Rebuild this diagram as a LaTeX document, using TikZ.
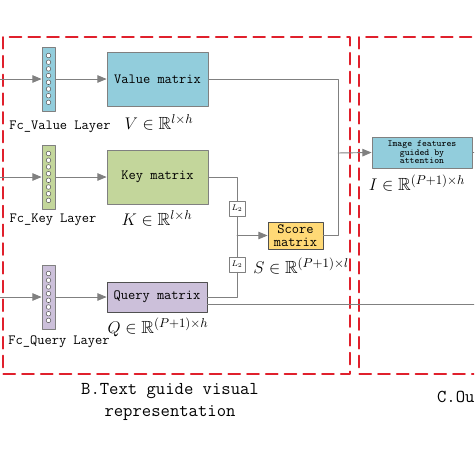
\documentclass[tikz,border=0pt]{standalone}
\usepackage{amsmath}
\usepackage{amssymb}
\usetikzlibrary{arrows}

\definecolor{valblue}{HTML}{92CDDC}
\definecolor{keygreen}{HTML}{C3D69B}
\definecolor{qpurple}{HTML}{CCC0DA}
\definecolor{scoreyel}{HTML}{FFD976}
\definecolor{redline}{HTML}{E0202C}
\definecolor{lgray}{HTML}{808080}
\definecolor{dgray}{HTML}{505050}

\begin{document}
\begin{tikzpicture}[line cap=round,line join=round,>=triangle 45,x=0.03cm,y=-0.03cm,
  matbox/.style={draw=lgray,line width=0.8pt,inner sep=0pt,minimum width=3.03cm,minimum height=1.62cm,font=\fontsize{12}{14}\ttfamily},
  layerbar/.style={draw=lgray,line width=0.8pt,inner sep=0pt,minimum width=0.39cm,minimum height=1.92cm},
  lbl/.style={font=\fontsize{12}{14}\ttfamily},
  mlbl/.style={font=\fontsize{15}{17}\selectfont},
  link/.style={draw=lgray,line width=0.8pt},
  reddash/.style={draw=redline,line width=1.6pt,dash pattern=on 10pt off 6pt},
  normbox/.style={draw=lgray,fill=white,line width=0.6pt,inner sep=0pt,minimum width=0.48cm,minimum height=0.45cm,font=\fontsize{7}{8}\selectfont}]
\useasboundingbox (0,0) rectangle (474,474);
\clip (0,0) rectangle (474,474);

% dashed frames
\draw[reddash] (3,37) rectangle (350,374);
\draw[reddash] (359,37) rectangle (500,374);

% layers
\node[layerbar,fill=valblue] (vlayer) at (48.5,79) {};
\node[layerbar,fill=keygreen] (klayer) at (48.5,177) {};
\node[layerbar,fill=qpurple] (qlayer) at (48.5,297) {};
\foreach \yc in {79,177,297}
  \foreach \k in {0,...,7}
    \draw[dgray,line width=0.4pt,fill=white] (48.5,{\yc-23.5+\k*6.7}) circle (2.3);

% matrices
\node[matbox,fill=valblue] (vmat) at (157.5,79) {Value matrix};
\node[matbox,fill=keygreen] (kmat) at (157.5,177) {Key matrix};
\node[matbox,fill=qpurple,draw=dgray,minimum width=3.0cm,minimum height=0.9cm] (qmat) at (157,297) {Query matrix};
\node[matbox,fill=scoreyel,draw=dgray,minimum width=1.65cm,minimum height=0.81cm,align=center,font=\fontsize{12}{11.5}\ttfamily] (smat) at (295.5,235.5) {Score\\matrix};
\node[normbox] (norma) at (237,208.5) {$L_2$};
\node[normbox] (normb) at (237,264.5) {$L_2$};
\node[matbox,fill=valblue,minimum width=3.0cm,minimum height=0.93cm,align=center,font=\fontsize{7.9}{7.3}\ttfamily] (img) at (422,152.5) {Image features\\guided by\\attention};

% labels
\node[lbl] (vname) at (60,127) {Fc\_Value Layer};
\node[lbl] (kname) at (53,220) {Fc\_Key Layer};
\node[lbl] (qname) at (59,342) {Fc\_Query Layer};
\node[mlbl] (vdim) at (159,122) {$V\in\mathbb{R}^{l\times h}$};
\node[mlbl] (kdim) at (157,218) {$K\in\mathbb{R}^{l\times h}$};
\node[mlbl] (qdim) at (158,327) {$Q\in\mathbb{R}^{(P+1)\times h}$};
\node[mlbl] (sdim) at (301,266) {$S\in\mathbb{R}^{(P+1)\times l}$};
\node[mlbl] (idim) at (417,183) {$I\in\mathbb{R}^{(P+1)\times h}$};
\node[align=center,font=\fontsize{15.5}{18}\ttfamily] (bname) at (170,402) {B.Text guide visual\\representation};
\node[anchor=west,font=\fontsize{15.5}{18}\ttfamily] (cname) at (433,397) {C.Ou};

% connectors
\coordinate (vin) at (0,79);
\coordinate (kin) at (0,177);
\coordinate (qin) at (0,297);
\coordinate (join) at (338,153);
\coordinate (qout) at (474,304);
\coordinate (iout) at (474,152.5);
\draw[link,->] (vin) -- (vlayer);
\draw[link,->] (kin) -- (klayer);
\draw[link,->] (qin) -- (qlayer);
\draw[link,->] (vlayer) -- (vmat);
\draw[link,->] (klayer) -- (kmat);
\draw[link,->] (qlayer) -- (qmat);
\draw[link] (vmat.east) -| (join);
\draw[link] (smat.east) -| (join);
\draw[link,->] (join) -- (img.west);
\draw[link] (img.east) -- (iout);
\draw[link] (kmat.east) -| (norma.north);
\draw[link] (qmat.east) -| (normb.south);
\draw[link] (norma.south) -- (normb.north);
\draw[link,->] (norma.south |- smat.west) -- (smat.west);
\draw[link] (qmat.east |- qout) -- (qout);
\end{tikzpicture}
\end{document}
